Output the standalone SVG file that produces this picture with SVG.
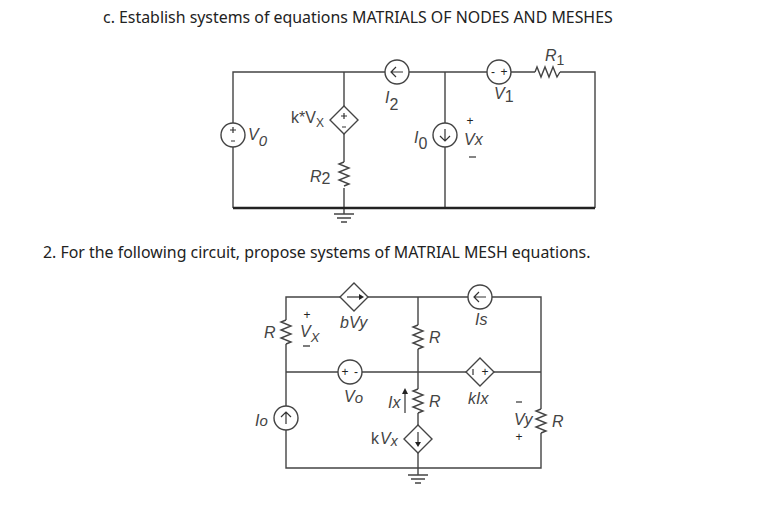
<svg xmlns="http://www.w3.org/2000/svg" width="766" height="530" viewBox="0 0 766 530">
<style>
.w{fill:none;stroke:#444;stroke-width:1.4}
.s{fill:#fff;stroke:#444;stroke-width:1.4}
.a{fill:none;stroke:#333;stroke-width:1.2}
.h{font-family:"Noto Sans",sans-serif;font-size:15.9px;fill:#222}
.l{font-family:"Liberation Sans",sans-serif;font-size:16px;fill:#444;font-style:italic}
.n{font-family:"Liberation Sans",sans-serif;font-size:16px;fill:#444}
.p{font-family:"Liberation Sans",sans-serif;font-size:12px;fill:#222;text-anchor:middle}
</style>
<defs>
<path id="rv" class="w" d="M0 0l-5 2 10 4-10 4 10 4-10 4 10 4-5 2"/>
<path id="rh" class="w" d="M0 0l2-5 4 10 4-10 4 10 4-10 4 10 3-5"/>
<path id="gnd" class="w" d="M-10 0H10M-7 4H7M-3 8H3"/>
</defs>
<rect width="766" height="530" fill="#fff"/>
<text class="h" x="103" y="23">c. Establish systems of equations MATRIALS OF NODES AND MESHES</text>
<text class="h" x="43" y="258">2. For the following circuit, propose systems of MATRIAL MESH equations.</text>
<g id="connectors">
<path class="w" d="M233 123V72H385M409 72H487M511 72H535M560 72H595V208M233 147V208M344 72V106M344 134V162M344 188V208V214M445 72V123M445 147V208"/>
<path d="M233 208H595" fill="none" stroke="#222" stroke-width="2.4"/>
<path class="w" d="M286 320V297H340M368 297H468M492 297H541V409M286 344V406M286 430V468H541V433M286 372H338M362 372H466M494 372H541M418 297V325M418 349V389M418 413V425M418 453V475"/>
</g>
<g id="vo1"><circle class="s" cx="233" cy="135" r="12"/><path class="a" d="M230 130H236M233 127V133M231 141H235"/><text class="l" x="248" y="140" font-size="17">V<tspan dy="6" font-size="15">0</tspan></text></g>
<g id="kvx"><path class="s" d="M344 106l14 14-14 14-14-14z"/><path class="a" d="M341 116H347M344 113V119M342 127H346"/><text class="n" x="291" y="123">k*V<tspan dy="4" font-size="12">X</tspan></text></g>
<g id="r2"><use href="#rv" x="344" y="162"/><text class="l" x="310" y="182" font-size="17">R<tspan dy="2" font-style="normal">2</tspan></text></g>
<g id="gnd1"><use href="#gnd" x="344" y="214"/></g>
<g id="i2"><circle class="s" cx="397" cy="72" r="12"/><path class="a" d="M403 72H391M396 67l-5 5 5 5"/><text class="l" x="385" y="103" font-size="17">I<tspan dy="7" font-style="normal" font-size="16">2</tspan></text></g>
<g id="io1"><circle class="s" cx="445" cy="135" r="12"/><path class="a" d="M445 129V141M440 136l5 5 5-5"/><text class="l" x="414" y="143" font-size="16">I<tspan dy="6" font-style="normal">0</tspan></text><text class="p" x="470" y="125">+</text><text class="l" x="464" y="145">Vx</text><path class="a" d="M469 157H476"/></g>
<g id="v1"><circle class="s" cx="499" cy="72" r="12"/><text class="p" x="493" y="76">-</text><text class="p" x="504" y="76">+</text><text class="l" x="494" y="99" font-size="15">V<tspan dy="3" font-style="normal">1</tspan></text></g>
<g id="r1"><use href="#rh" x="535" y="72"/><text class="l" x="545" y="61" font-size="16">R<tspan dy="4" font-style="normal" font-size="14">1</tspan></text></g>
<g id="r3"><use href="#rv" x="286" y="320"/><text class="l" x="264" y="338">R</text><text class="p" x="307" y="319">+</text><text class="l" x="300" y="337">V<tspan dy="5" font-size="13">X</tspan></text><path class="w" d="M303 346H310"/></g>
<g id="bvy"><path class="s" d="M354 283l14 14-14 14-14-14z"/><path class="a" d="M347 297H360"/><path d="M364 297l-5-3v6z" fill="#222"/><text class="l" x="340" y="328" font-size="16">bVy</text></g>
<g id="r4"><use href="#rv" x="418" y="325"/><text class="l" x="429" y="343">R</text></g>
<g id="vo2"><circle class="s" cx="350" cy="372" r="12"/><text class="p" x="345" y="376">+</text><text class="p" x="356" y="376">-</text><text class="l" x="344" y="402" font-size="16">V<tspan dy="1" font-size="15">o</tspan></text></g>
<g id="r5"><use href="#rv" x="418" y="389"/><text class="l" x="429" y="407">R</text><text class="l" x="388" y="408" font-size="15">Ix</text><path class="a" d="M405 413V393"/><path d="M405 388l-3 6h6z" fill="#222"/></g>
<g id="kvx2"><path class="s" d="M418 425l14 14-14 14-14-14z"/><path class="a" d="M418 432V443"/><path d="M418 447l-3-5h6z" fill="#222"/><text class="n" x="371" y="444" font-size="17">k<tspan font-style="italic" dx="1">V</tspan><tspan dy="2" font-size="14" font-style="italic">x</tspan></text></g>
<g id="gnd2"><use href="#gnd" x="418" y="475"/></g>
<g id="io2"><circle class="s" cx="286" cy="418" r="12"/><path class="a" d="M286 424V412M281 417l5-5 5 5"/><text class="l" x="255" y="426" font-size="16">I<tspan font-size="15">o</tspan></text></g>
<g id="is"><circle class="s" cx="480" cy="297" r="12"/><path class="a" d="M486 297H474M479 292l-5 5 5 5"/><text class="l" x="475" y="325" font-size="16">Is</text></g>
<g id="kix"><path class="s" d="M480 358l14 14-14 14-14-14z"/><path class="a" d="M473 369V375"/><text class="p" x="485" y="376">+</text><text class="l" x="468" y="404" font-size="16">kIx</text></g>
<g id="r6"><use href="#rv" x="541" y="409"/><text class="l" x="552" y="427">R</text><path class="a" d="M516 402H522"/><text class="l" x="514" y="425" font-size="16">Vy</text><text class="p" x="519" y="441">+</text></g>
</svg>
